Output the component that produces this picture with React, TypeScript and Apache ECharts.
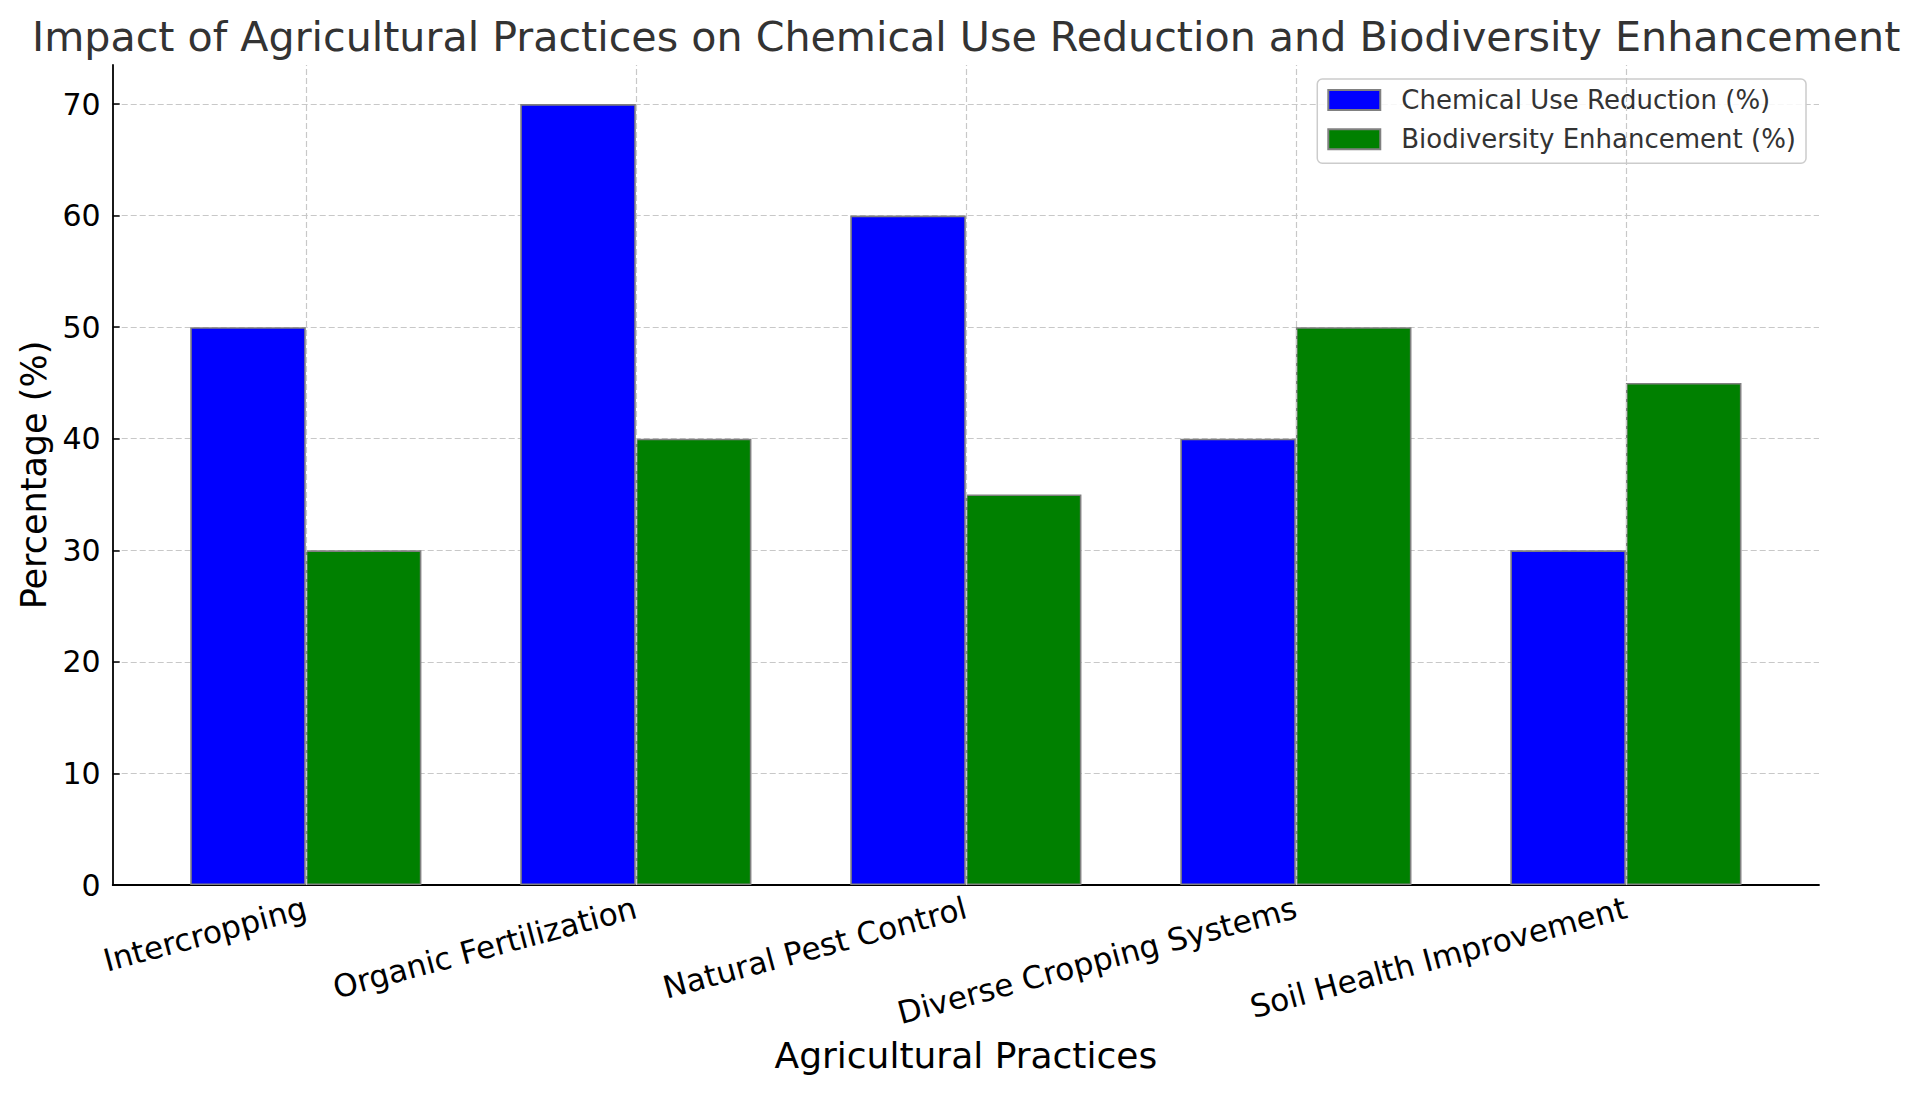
import React, { useEffect, useRef } from "react";
import * as echarts from "echarts";

// Practices on the horizontal axis
const categories = [
  "Intercropping",
  "Organic Fertilization",
  "Natural Pest Control",
  "Diverse Cropping Systems",
  "Soil Health Improvement",
];

// Percent values per practice
const chemicalUseReduction = [50, 70, 60, 40, 30];
const biodiversityEnhancement = [30, 40, 35, 50, 45];

// Value-axis settings
const yMin = 0;
const yMax = 73.5;
const yStep = 10;

const FONT = "DejaVu Sans";

export default function App() {
  const ref = useRef<HTMLDivElement | null>(null);

  useEffect(() => {
    if (!ref.current) return;
    const chart = echarts.init(ref.current, null, { renderer: "svg" });

    // Outer plot frame spans the padded x range; the inner grid holds the
    // five category bands so that band centres sit at integer positions.
    const outer = { left: 112.7, right: 101, top: 65, bottom: 210 };
    const bandInset = 28.1;
    const barWidth = 115.6;

    const gridLineStyle = {
      color: "#c8c8c8",
      width: 1.2,
      type: [6, 3] as number[],
    };

    const edge = { borderColor: "#808080", borderWidth: 1.6 };

    chart.setOption({
      animation: false,
      backgroundColor: "#ffffff",
      textStyle: { fontFamily: FONT },
      title: {
        text: "Impact of Agricultural Practices on Chemical Use Reduction and Biodiversity Enhancement",
        left: 32,
        top: 16,
        padding: 0,
        textStyle: {
          fontFamily: FONT,
          fontSize: 41.2,
          fontWeight: "normal",
          color: "#333333",
        },
      },
      legend: {
        orient: "vertical",
        right: 114,
        top: 79,
        padding: [8, 10, 11, 10],
        itemWidth: 52,
        itemHeight: 20,
        itemGap: 13.3,
        icon: "rect",
        selectedMode: false,
        backgroundColor: "rgba(255,255,255,0.85)",
        borderColor: "#cccccc",
        borderWidth: 1.5,
        borderRadius: 5,
        textStyle: {
          fontFamily: FONT,
          fontSize: 26,
          color: "#333333",
          padding: [0, 0, 0, 16],
        },
        data: ["Chemical Use Reduction (%)", "Biodiversity Enhancement (%)"],
      },
      grid: [
        { ...outer },
        {
          left: outer.left + bandInset,
          right: outer.right + bandInset,
          top: outer.top,
          bottom: outer.bottom,
        },
      ],
      xAxis: [
        {
          type: "value",
          gridIndex: 0,
          min: -0.585,
          max: 4.585,
          axisLine: { show: true, onZero: false, lineStyle: { color: "#000000", width: 1.8 } },
          axisTick: { show: false },
          axisLabel: { show: false },
          splitLine: { show: false },
        },
        {
          type: "category",
          gridIndex: 1,
          data: categories,
          axisLine: { show: false },
          axisTick: { show: false },
          splitLine: { show: false },
          axisLabel: {
            interval: 0,
            rotate: 15,
            margin: 22,
            fontFamily: FONT,
            fontSize: 31.2,
            color: "#000000",
          },
          name: "Agricultural Practices",
          nameLocation: "middle",
          nameGap: 152,
          nameTextStyle: { fontFamily: FONT, fontSize: 36, color: "#000000" },
        },
      ],
      yAxis: [
        {
          type: "value",
          gridIndex: 0,
          min: yMin,
          max: yMax,
          interval: yStep,
          axisLine: { show: true, onZero: false, lineStyle: { color: "#000000", width: 1.8 } },
          axisTick: { show: true, inside: true, length: 7, lineStyle: { color: "#000000", width: 1.5 } },
          axisLabel: {
            showMaxLabel: false,
            margin: 12,
            fontFamily: FONT,
            fontSize: 30,
            color: "#000000",
            formatter: (v: number) => (v % yStep === 0 ? String(v) : ""),
          },
          splitLine: { show: true, showMaxLine: false, lineStyle: gridLineStyle },
          name: "Percentage (%)",
          nameLocation: "middle",
          nameGap: 56,
          nameTextStyle: { fontFamily: FONT, fontSize: 35, color: "#000000" },
        },
        {
          type: "value",
          gridIndex: 1,
          min: yMin,
          max: yMax,
          show: false,
          splitLine: { show: false },
        },
      ],
      series: [
        {
          // vertical grid lines at category centres
          type: "line",
          name: "_grid",
          xAxisIndex: 1,
          yAxisIndex: 1,
          data: [],
          z: 1,
          silent: true,
          markLine: {
            silent: true,
            symbol: ["none", "none"],
            label: { show: false },
            lineStyle: gridLineStyle,
            emphasis: { disabled: true },
            data: categories.map((c) => ({ xAxis: c })),
          },
        },
        {
          type: "bar",
          name: "Chemical Use Reduction (%)",
          xAxisIndex: 1,
          yAxisIndex: 1,
          data: chemicalUseReduction,
          barWidth,
          barGap: "0%",
          z: 2,
          itemStyle: { color: "#0000ff", ...edge },
        },
        {
          type: "bar",
          name: "Biodiversity Enhancement (%)",
          xAxisIndex: 1,
          yAxisIndex: 1,
          data: biodiversityEnhancement,
          barWidth,
          barGap: "0%",
          z: 2,
          itemStyle: { color: "#008000", ...edge },
        },
      ],
    });

    return () => chart.dispose();
  }, []);

  return (
    <div
      ref={ref}
      style={{ position: "fixed", left: 0, top: 0, width: 1920, height: 1095, background: "#fff" }}
    />
  );
}
